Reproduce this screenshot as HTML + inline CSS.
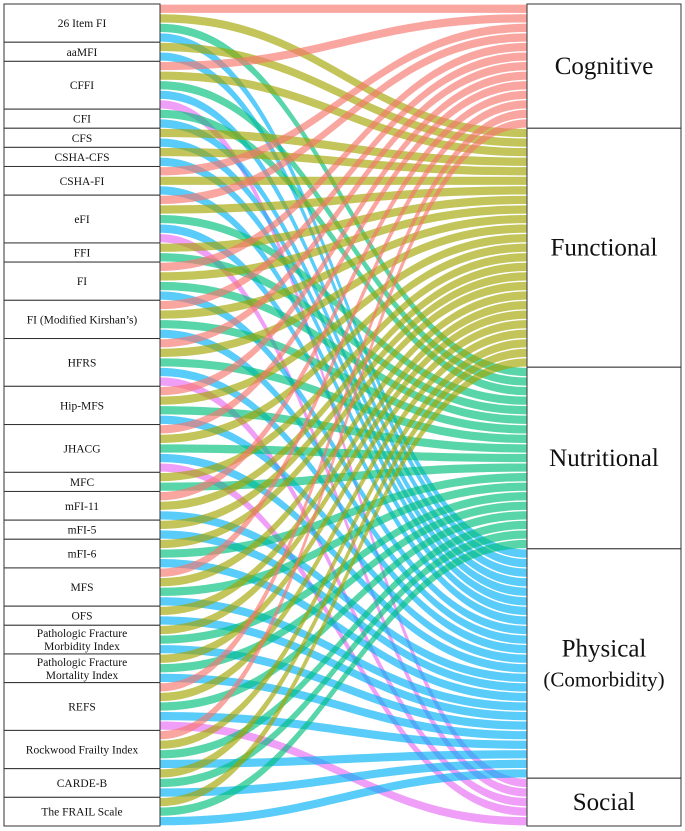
<!DOCTYPE html>
<html><head><meta charset="utf-8">
<style>
html,body{margin:0;padding:0;background:#fff;}
svg{display:block;}
text{font-family:"Liberation Serif",serif;fill:#111;}
</style></head>
<body>
<svg id="chart" width="685" height="831" viewBox="0 0 685 831">
<g id="flows"></g>
<g id="nodes"></g>
</svg>
<script>
// ---- data ----
const instruments = ["26 Item FI","aaMFI","CFFI","CFI","CFS","CSHA-CFS","CSHA-FI","eFI","FFI","FI","FI (Modified Kirshan\u2019s)","HFRS","Hip-MFS","JHACG","MFC","mFI-11","mFI-5","mFI-6","MFS","OFS","Pathologic Fracture|Morbidity Index","Pathologic Fracture|Mortality Index","REFS","Rockwood Frailty Index","CARDE-B","The FRAIL Scale"];
const domains = ["Cognitive","Functional","Nutritional","Physical|(Comorbidity)","Social"];
// domain index list per instrument (0=Cog,1=Func,2=Nutr,3=Phys,4=Social)
const links = [
 [0,1,2,3],[1,3],[0,1,2,3,4],[2,3],[1,3],[1,3],[0,1,3],[0,1,2,3,4],[1,2],[0,1,2,3],
 [0,1,2,3],[0,1,2,3,4],[0,1,2,3],[0,1,2,3,4],[1,2],[0,1,3],[1,3],[1,2,3],[0,1,2,3],[1,3],
 [1,2,3],[1,2,3],[0,1,2,3,4],[0,1,2,3],[1,2,3],[1,2,3]
];
const colors = ["#F8766D","#A3A500","#00BF7D","#00B0F6","#E76BF3"];

// ---- layout ----
const NS="http://www.w3.org/2000/svg";
const yTop=4, yBottom=826, lx0=4, lx1=160, rx0=527, rx1=681;
const totalUnits = links.reduce((a,l)=>a+l.length,0);
const unit=(yBottom-yTop)/totalUnits;
const yScale = v => yTop + v*unit;
const fg=document.getElementById('flows'), ng=document.getElementById('nodes');

const dCount = domains.map((d,i)=>links.reduce((a,l)=>a+(l.includes(i)?1:0),0));
const dStart=[]; {let s=0; dCount.forEach((c)=>{dStart.push(s);s+=c;});}
const dUsed = domains.map(()=>0);

let accUnits=0;
links.forEach((l,i)=>{
  l.forEach((d,j)=>{
    const yl=yScale(accUnits+j), yr=yScale(dStart[d]+dUsed[d]);
    dUsed[d]++;
    const pad=unit*0.07, h=unit-2*pad;
    const a=yl+pad, b=yr+pad;
    const c1=lx1+(rx0-lx1)*0.45, c2=rx0-(rx0-lx1)*0.45;
    const p=document.createElementNS(NS,'path');
    p.setAttribute('d',`M${lx1},${a} C${c1},${a} ${c2},${b} ${rx0},${b} L${rx0},${b+h} C${c2},${b+h} ${c1},${a+h} ${lx1},${a+h} Z`);
    p.setAttribute('fill',colors[d]);
    p.setAttribute('fill-opacity','0.65');
    
    
    fg.appendChild(p);
  });
  const y0=yScale(accUnits), y1=yScale(accUnits+l.length);
  const r=document.createElementNS(NS,'rect');
  r.setAttribute('x',lx0);r.setAttribute('y',y0);r.setAttribute('width',lx1-lx0);r.setAttribute('height',y1-y0);
  r.setAttribute('fill','#fff');r.setAttribute('stroke','#333');r.setAttribute('stroke-width','1');
  
  
  ng.appendChild(r);
  const parts=instruments[i].split('|');
  parts.forEach((t,k)=>{
    const tx=document.createElementNS(NS,'text');
    tx.setAttribute('x',(lx0+lx1)/2);
    tx.setAttribute('y',(y0+y1)/2 + 4 + (k-(parts.length-1)/2)*13);
    tx.setAttribute('text-anchor','middle');tx.setAttribute('font-size','11.5');
    tx.textContent=t;
    
    
    ng.appendChild(tx);
  });
  accUnits+=l.length;
});

domains.forEach((d,i)=>{
  const y0=yScale(dStart[i]), y1=yScale(dStart[i]+dCount[i]);
  const r=document.createElementNS(NS,'rect');
  r.setAttribute('x',rx0);r.setAttribute('y',y0);r.setAttribute('width',rx1-rx0);r.setAttribute('height',y1-y0);
  r.setAttribute('fill','#fff');r.setAttribute('stroke','#333');r.setAttribute('stroke-width','1');
  
  
  ng.appendChild(r);
  const parts=d.split('|');
  parts.forEach((t,k)=>{
    const tx=document.createElementNS(NS,'text');
    tx.setAttribute('x',(rx0+rx1)/2);
    tx.setAttribute('y',(y0+y1)/2 + 8 + (k-(parts.length-1)/2)*30);
    tx.setAttribute('text-anchor','middle');
    tx.setAttribute('font-size', k===0?'25':'21');
    tx.textContent=t;
    
    
    ng.appendChild(tx);
  });
});
</script>
</body></html>
